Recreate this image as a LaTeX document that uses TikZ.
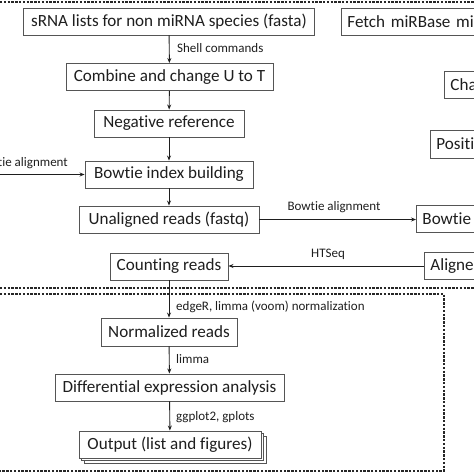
\documentclass[tikz,border=0pt]{standalone}
\usepackage{fontspec}
\setmainfont{Carlito}[Ligatures=NoCommon]
\usetikzlibrary{arrows.meta}
\definecolor{boxline}{HTML}{555555}
\definecolor{txt}{HTML}{1E1E1E}
\tikzset{
  box/.style={draw=boxline, line width=0.9pt, fill=white, text=txt, inner sep=0pt,
    font=\fontsize{17.1}{19}\selectfont},
  cutbox/.style={box, anchor=west, align=left, inner xsep=6pt},
  lbl/.style={text=txt, font=\fontsize{13}{15}\selectfont, inner sep=0pt},
  arr/.style={draw=txt, line width=0.9pt, -{Stealth[length=5pt,width=4pt]}},
  dashline/.style={draw=black!85, line width=1.4pt, dash pattern=on 2.4pt off 1.4pt},
}
\begin{document}
\begin{tikzpicture}[x=1pt,y=-1pt]
\useasboundingbox (0,0) rectangle (474,474);
\clip (0,0) rectangle (474,474);
% dashed frame lines
\coordinate (t1) at (0,2); \coordinate (t2) at (474,2);
\draw[dashline] (t1) -- (t2);
\coordinate (m1) at (0,288); \coordinate (m2) at (474,288);
\draw[dashline] (m1) -- (m2);
\coordinate (d1) at (0,294); \coordinate (d2) at (444,294);
\coordinate (d3) at (444,471); \coordinate (d4) at (0,471);
\draw[dashline] (d1) -- (d2) -- (d3) -- (d4);

% left column
\node[box, minimum width=291, minimum height=27] (srna) at (169,21.5) {sRNA lists for non miRNA species (fasta)};
\node[box, minimum width=207, minimum height=27] (comb) at (169.5,77) {Combine and change U to T};
\node[box, minimum width=150, minimum height=27] (neg) at (169,123.5) {Negative reference};
\node[box, minimum width=168, minimum height=27] (bidx) at (169,174.5) {Bowtie index building};
\node[box, minimum width=180, minimum height=27] (unal) at (169,219.5) {Unaligned reads (fastq)};
\node[box, minimum width=118, minimum height=27] (cnt) at (169,266.5) {Counting reads};
\node[box, minimum width=136, minimum height=28] (norm) at (169,332) {Normalized reads};
\node[box, minimum width=229, minimum height=27] (diff) at (169.5,387.5) {Differential expression analysis};
\node[box, minimum width=182, minimum height=27] (outc) at (175,449.5) {};
\node[box, minimum width=182, minimum height=27] (outb) at (172.5,447) {};
\node[box, minimum width=182, minimum height=27] (out) at (170,444.5) {Output (list and figures)};

% right column (cut by the frame)
\node[cutbox, text width=200, minimum height=27] (fetch) at (341,21.5) {Fetch miRBase miR};
\node[cutbox, text width=60, minimum height=27] (cha) at (444,85) {Cha};
\node[cutbox, text width=60, minimum height=28] (pos) at (430,144) {Positi};
\node[cutbox, text width=80, minimum height=27] (bowr) at (416,219) {Bowtie};
\node[cutbox, text width=80, minimum height=27] (algn) at (424,266) {Aligne};

% connectors
\draw[arr] (srna) -- (comb);
\draw[arr] (comb) -- (neg);
\draw[arr] (neg) -- (bidx);
\draw[arr] (bidx) -- (unal);
\coordinate (lin) at (0,174.5);
\draw[arr] (lin) -- (bidx.west);
\draw[arr] (unal.east) -- (unal.east -| bowr.west);
\draw[arr] (algn.west) -- (algn.west -| cnt.east);
\draw[arr] (cnt) -- (norm);
\draw[arr] (norm) -- (diff);
\draw[arr] (diff) -- (out);

% labels
\node[lbl, anchor=west] (l1) at (177,48) {Shell commands};
\node[lbl, anchor=east] (l2) at (68,163) {tie alignment};
\node[lbl] (l3) at (334,207) {Bowtie alignment};
\node[lbl] (l4) at (328,254) {HTSeq};
\node[lbl, anchor=west] (l5) at (176,307) {edgeR, limma (voom) normalization};
\node[lbl, anchor=west] (l6) at (176,359.5) {limma};
\node[lbl, anchor=west] (l7) at (176,417) {ggplot2, gplots};
\end{tikzpicture}
\end{document}
